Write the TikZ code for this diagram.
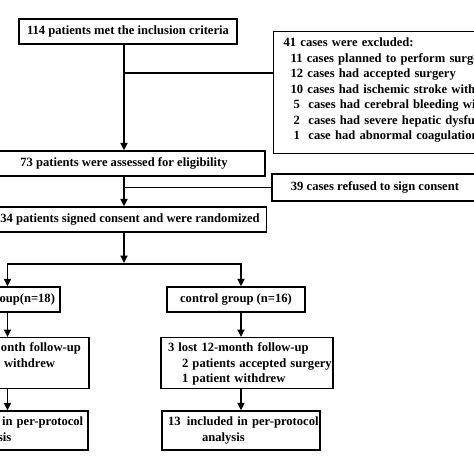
\documentclass[tikz,border=0pt]{standalone}
\usepackage{fontspec}
\setmainfont{Liberation Serif}
\usetikzlibrary{arrows.meta,calc}
\newcommand\flowfont{\fontsize{12.6}{15.5}\selectfont\bfseries
  \setlength{\normalbaselineskip}{15.5pt}}

\begin{document}
\begin{tikzpicture}[x=1pt,y=-1pt,
  font=\flowfont,
  box/.style={draw=black,line width=1.3pt,minimum height=25pt,
              inner xsep=7pt,inner ysep=0pt},
  listbox/.style={box,align=left,inner xsep=3pt},
  flow/.style={draw=black,line width=1.7pt},
  arr/.style={flow,-{Triangle[length=7.5pt,width=7pt]}}]

\useasboundingbox (0,0) rectangle (474,474);

% screening
\node[box,minimum width=218pt] (incl) at (128,31.5)
  {114 patients met the inclusion criteria};
\node[listbox,anchor=north west,text width=300pt,text height=15pt,
      text depth=107pt] (excl) at (273,31)
  {\hspace*{7pt}41 cases were excluded:\\
   \hspace*{14pt}11 cases planned to perform surge\\
   \hspace*{14pt}12 cases had accepted surgery\\
   \hspace*{14pt}10 cases had ischemic stroke withi\\
   \hspace*{17pt}5\hspace{8.5pt}cases had cerebral bleeding wit\\
   \hspace*{17pt}2\hspace{8.5pt}cases had severe hepatic dysfun\\
   \hspace*{17pt}1\hspace{8.5pt}case had abnormal coagulation};

\node[box,minimum width=282pt] (elig) at (124,163.5)
  {73 patients were assessed for eligibility};
\node[box,minimum width=206pt,minimum height=27pt] (refused) at (375,187.5)
  {39 cases refused to sign consent};
\node[box,minimum width=272pt] (rand) at (130,219.5)
  {34 patients signed consent and were randomized};

% groups
\node[box,minimum width=105pt,text width=95pt,inner xsep=5pt,
      align=right] (grpA) at (7.5,299.5) {oup(n=18)};
\node[box,minimum width=138pt] (ctrl) at (236,299.5) {control group (n=16)};

\node[listbox,anchor=north,minimum width=95pt,text width=89pt,
      text height=14pt,text depth=37pt] (lostA) at (41.5,337)
  {\hspace*{4pt}onth follow-up\\\hspace*{-1.3pt}t withdrew};
\node[listbox,anchor=north,minimum width=172pt,text width=166pt,
      text height=14pt,text depth=37pt] (lostB) at (247,337)
  {\mbox{\hspace*{4pt}3 lost 12-month follow-up}\\
   \mbox{\hspace*{18pt}2 patients accepted surgery}\\
   \mbox{\hspace*{18pt}1 patient withdrew}};

\node[listbox,inner xsep=2pt,minimum width=95pt,minimum height=39pt,
      text width=91pt] (ppA) at (40.5,430.5)
  {\hspace*{7pt}in per-protocol\\\hspace*{3pt}sis\vphantom{y}};
\node[listbox,inner xsep=2pt,minimum width=158pt,minimum height=39pt,
      text width=154pt] (ppB) at (241,430.5)
  {\mbox{\hspace*{4pt}13\hspace{6.4pt}included in per-protocol}\\
   \hspace*{38pt}analysis};

% connectors
\draw[arr] (elig.north |- incl.south) -- (elig.north);
\coordinate (cut1) at (124,73);
\draw[flow] (cut1) -- (cut1 -| excl.west);

\draw[arr] (elig.south) -- (elig.south |- rand.north);
\draw[flow] (elig.south |- refused.west) -- (refused.west);

\coordinate (split) at (124,264);
\coordinate (laneR) at (241,264);
\draw[arr] (elig.south |- rand.south) -- ($(split)+(0,-1)$);
\draw[arr] (split) -| (grpA.north);
\draw[arr] (split) -- (laneR) -- (laneR |- ctrl.north);

\draw[arr] (grpA.south) -- (grpA.south |- lostA.north);
\draw[arr] (grpA.south |- lostA.south) -- (grpA.south |- ppA.north);
\draw[arr] (laneR |- ctrl.south) -- (laneR |- lostB.north);
\draw[arr] (laneR |- lostB.south) -- (laneR |- ppB.north);
\end{tikzpicture}
\end{document}
